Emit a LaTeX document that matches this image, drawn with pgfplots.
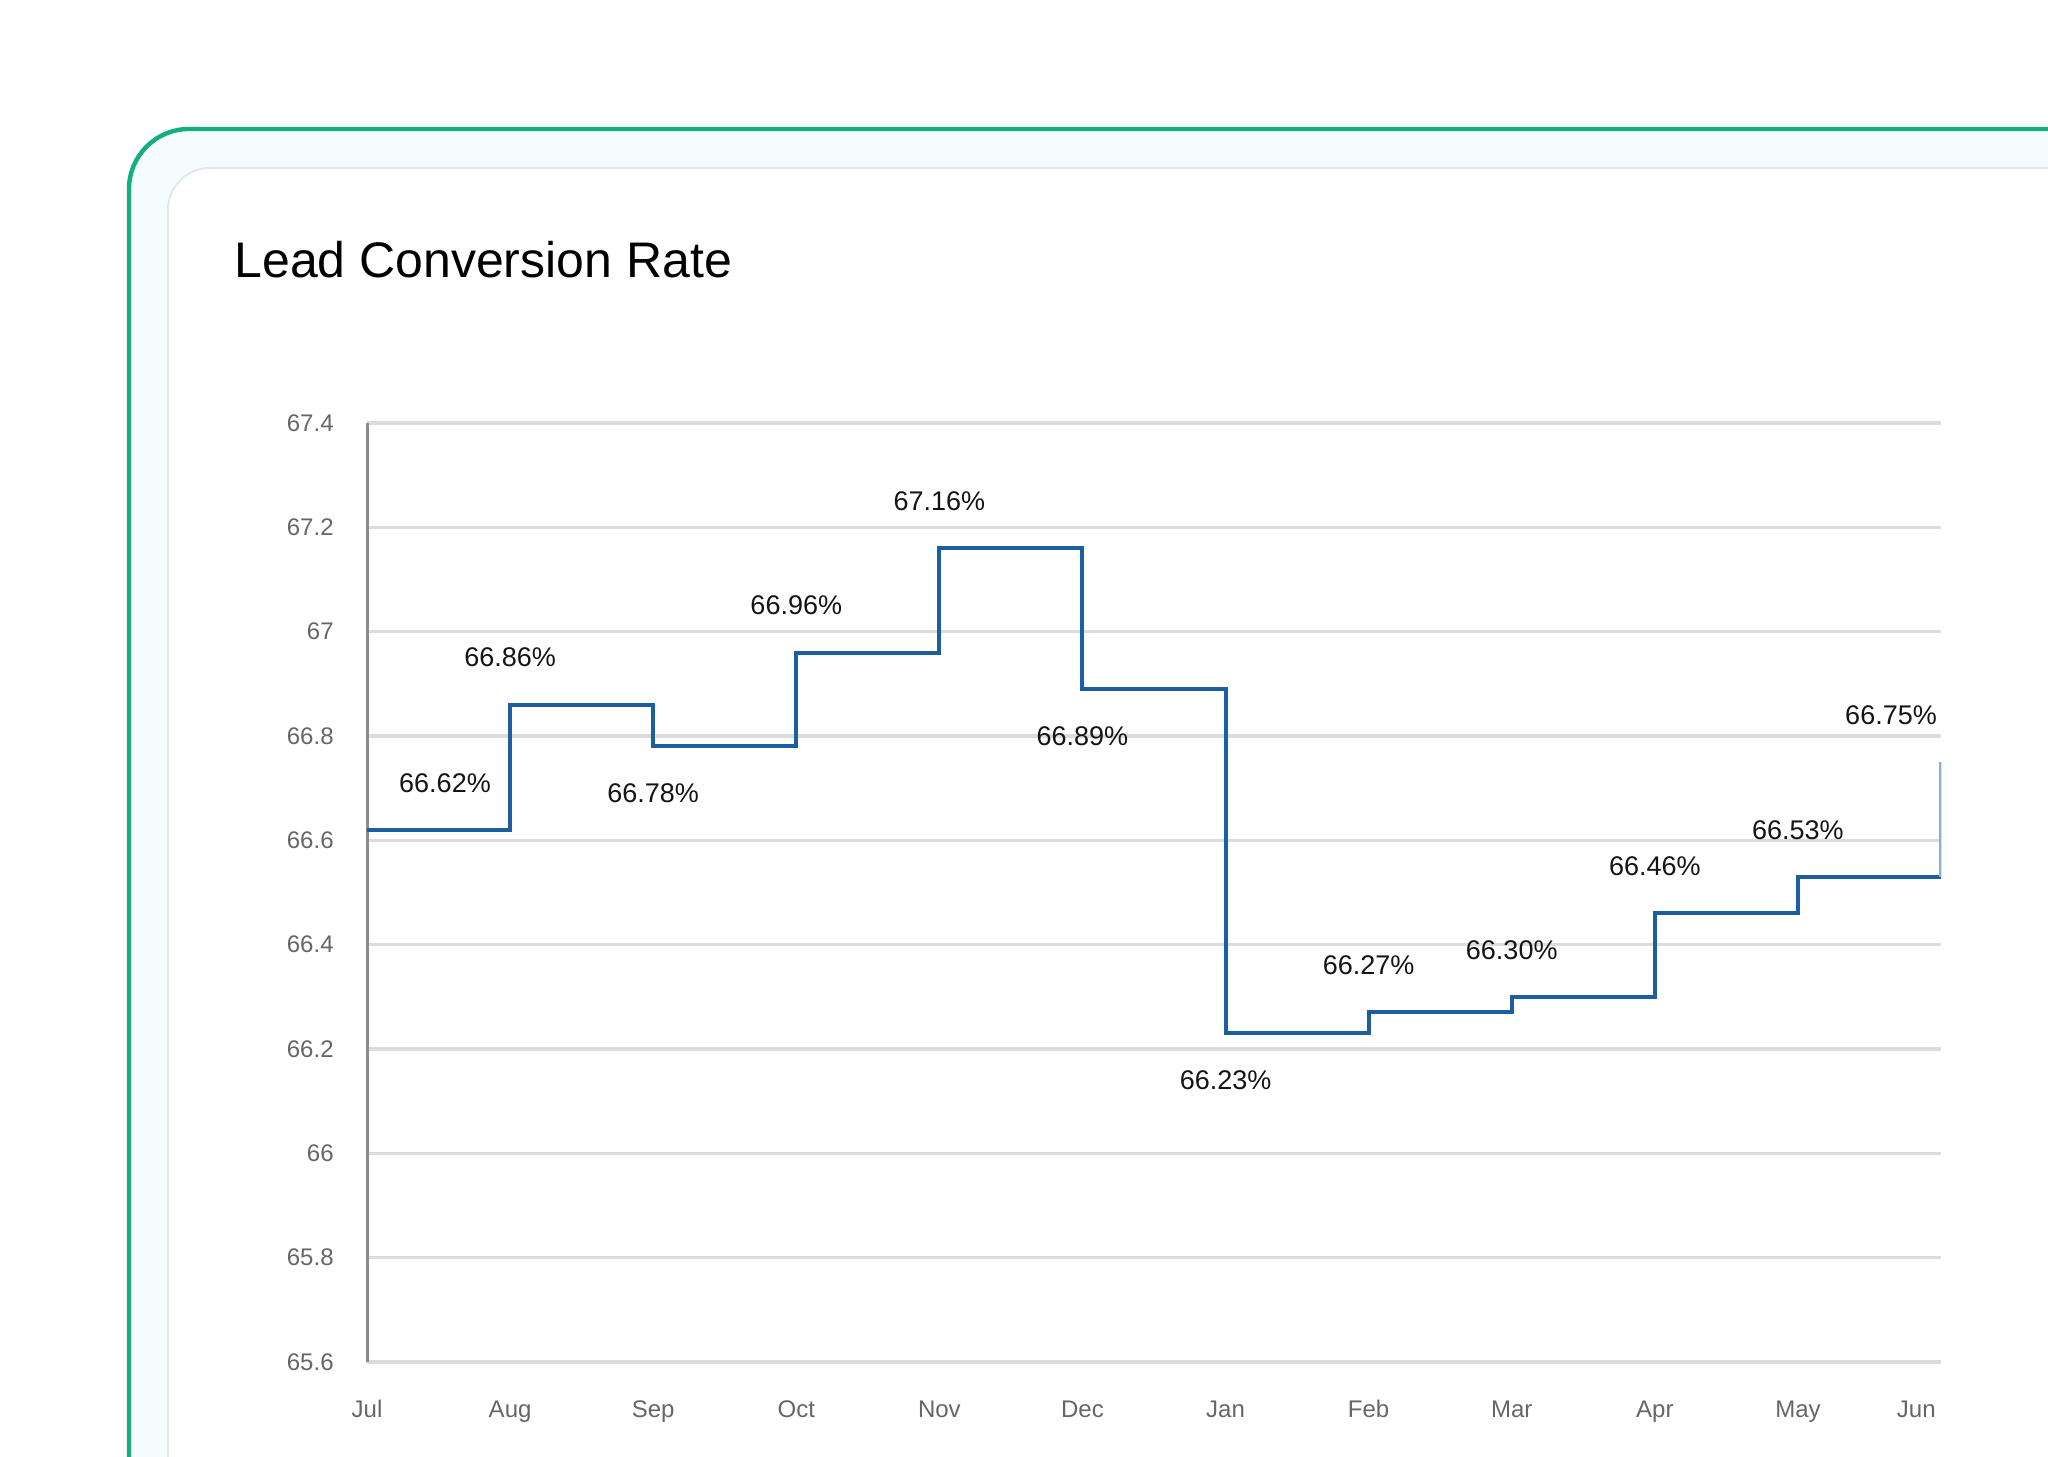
\documentclass[border=0pt]{standalone}
\usepackage{fontspec}
\setmainfont{Liberation Sans}
\usepackage{pgfplots}
\usepackage{pgfplotstable}
\pgfplotsset{compat=1.18}

\definecolor{cardgreen}{RGB}{19,176,126}
\definecolor{cardfill}{RGB}{244,252,253}
\definecolor{panelborder}{RGB}{226,233,234}
\definecolor{linecol}{RGB}{29,95,158}
\definecolor{linelight}{RGB}{138,174,208}
\definecolor{gridgray}{RGB}{220,220,220}
\definecolor{axisgray}{RGB}{140,140,140}
\definecolor{tickgray}{RGB}{102,102,102}
\definecolor{labelcol}{RGB}{20,20,20}

% month index, rate, label shifts (pt)
\pgfplotstableread{
x  y      dx    dy
0  66.62  39    23.5
1  66.86  0     23.5
2  66.78  0    -23.5
3  66.96  0     23.5
4  67.16  0     23.5
5  66.89  0    -23.5
6  66.23  0    -23.5
7  66.27  0     23.5
8  66.30  0     23.5
9  66.46  0     23.5
10 66.53  0     23.5
11 66.75 -25    23.5
}\ratedata

\begin{document}
\begin{tikzpicture}[x=1pt,y=1pt]
\useasboundingbox (0,0) rectangle (1024,728);
\begin{scope}
  \clip (0,0) rectangle (1024,728);
  \fill[white] (0,0) rectangle (1024,728);
  \draw[cardgreen, line width=2.2pt, fill=cardfill, rounded corners=30pt] (64.5,-100) rectangle (1200,663.5);
  \draw[panelborder, line width=1pt, fill=white, rounded corners=21pt] (84,-100) rectangle (1200,644);
\end{scope}
\node[anchor=base west, inner sep=0, font=\fontsize{25}{30}\selectfont, text=black]
  at (117,589) {Lead Conversion Rate};

\begin{axis}[
  at={(183.5pt,47pt)}, anchor=south west,
  scale only axis, width=787pt, height=469.5pt,
  xmin=0, xmax=11, ymin=65.6, ymax=67.4,
  separate axis lines,
  axis x line*=bottom, axis y line*=left,
  x axis line style={draw=gridgray, line width=2pt, -},
  y axis line style={draw=axisgray, line width=1.5pt, -},
  ymajorgrids=true,
  grid style={draw=gridgray, line width=1.6pt},
  major tick length=0pt,
  /pgf/number format/assume math mode=true,
  ytick={65.6,65.8,66,66.2,66.4,66.6,66.8,67,67.2,67.4},
  yticklabels={65.6,65.8,66,66.2,66.4,66.6,66.8,67,67.2,67.4},
  xtick={0,1,2,3,4,5,6,7,8,9,10},
  xticklabels={Jul,Aug,Sep,Oct,Nov,Dec,Jan,Feb,Mar,Apr,May},
  extra x ticks={11},
  extra x tick labels={Jun},
  extra x tick style={xticklabel style={anchor=base east, xshift=-2.5pt}},
  yticklabel style={anchor=east, inner sep=0pt, xshift=-16.5pt,
    font=\fontsize{12}{14}\selectfont, text=tickgray},
  xticklabel style={anchor=base, inner sep=0pt, yshift=-27.75pt,
    font=\fontsize{12}{14}\selectfont, text=tickgray},
]
\addplot[const plot, draw=linecol, line width=2pt, mark=none]
  table[x=x, y=y] {\ratedata};
\addplot[draw=linelight, line width=2pt, mark=none]
  coordinates {(11,66.53) (11,66.75)};
\addplot[draw=none, mark=none, point meta=y,
  visualization depends on={\thisrow{dx} \as \dx},
  visualization depends on={\thisrow{dy} \as \dy},
  nodes near coords={\pgfmathprintnumber[fixed,fixed zerofill,precision=2]{\pgfplotspointmeta}\%},
  every node near coord/.append style={anchor=center, inner sep=0pt,
    xshift=\dx pt, yshift=\dy pt,
    font=\fontsize{13.5}{16}\selectfont, text=labelcol},
] table[x=x, y=y] {\ratedata};
\end{axis}
\end{tikzpicture}
\end{document}
